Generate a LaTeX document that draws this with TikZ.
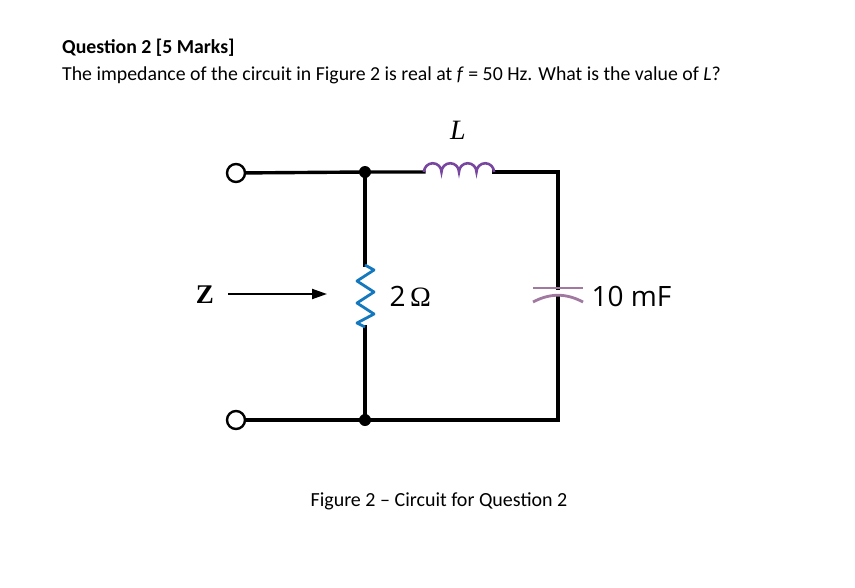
\documentclass[tikz,border=0pt]{standalone}
\usepackage{fontspec}
\setmainfont{Carlito}
\newfontfamily\serifz{Liberation Serif}
\newfontfamily\myriad{Open Sans}
\usetikzlibrary{decorations.pathmorphing,arrows.meta}
\begin{document}
\begin{tikzpicture}[x=1pt,y=-1pt,
  wire/.style={line width=3.4pt,line cap=rect},
  term/.style={circle,draw,line width=2.4pt,fill=white,minimum size=18pt,inner sep=0pt},
  dot/.style={circle,fill,minimum size=12pt,inner sep=0pt},
  txt/.style={font=\fontsize{19.8}{22}\selectfont,anchor=base west,inner sep=0pt}]
\useasboundingbox (0,0) rectangle (855,587);
\node[txt,font=\fontsize{19.8}{22}\selectfont\bfseries] (q) at (62,53) {Question 2 [5 Marks]};
\node[txt] (t) at (62,80) {The impedance of the circuit in Figure 2 is real at \textit{f} = 50 Hz. What is the value of \textit{L}?};
\coordinate (a) at (365,172);
\coordinate (b) at (365,420);
\coordinate (c) at (558,172);
\coordinate (d) at (558,420);
\coordinate (li) at (424,172);
\coordinate (lo) at (494,172);
\coordinate (rt) at (365,265);
\coordinate (rb) at (365,327);
\coordinate (ct) at (558,288);
\coordinate (cb) at (558,298);
\draw[wire] (236,173) -- (a) -- (li);
\draw[wire] (lo) -- (c) -- (ct);
\draw[wire] (cb) -- (d) -- (b) -- (236,420);
\draw[wire] (a) -- (rt);
\draw[wire] (rb) -- (b);
\draw[line width=2.6pt,color={rgb,255:red,120;green,70;blue,160}] (li)
  \foreach \i in {0,1,2,3} { arc[start angle=180,end angle=360,radius=8.75] } ;
\draw[line width=2.8pt,color={rgb,255:red,20;green,120;blue,190},line join=round]
  (rt) -- (374,270) -- (357,281) -- (374,292) -- (357,303) -- (374,314) -- (357,323) -- (rb);
\draw[line width=2.8pt,color={rgb,255:red,160;green,120;blue,160}] (533,288) -- (583,288);
\draw[line width=2.8pt,color={rgb,255:red,160;green,120;blue,160}] (533,302) .. controls (550,293) and (566,293) .. (583,302);
\node[term] (t1) at (236,173) {};
\node[term] (t2) at (236,420) {};
\node[dot] at (a) {};
\node[dot] at (b) {};
\node[font=\fontsize{27}{28}\selectfont\serifz\bfseries] (z) at (205,295) {Z};
\coordinate (za) at (228,294);
\coordinate (zb) at (327,294);
\draw[line width=2pt,-{Triangle[length=15pt,width=10pt]}] (za) -- (zb);
\node[font=\fontsize{28}{28}\selectfont\serifz\itshape] (lab) at (458,130) {L};
\node[font=\fontsize{28}{28}\selectfont\myriad,anchor=west] (r) at (386,296) {2\,\serifz Ω};
\node[font=\fontsize{28}{28}\selectfont\myriad,anchor=west] (cap) at (588,296) {10 mF};
\node[font=\fontsize{20}{22}\selectfont] (fig) at (439,501) {Figure 2 – Circuit for Question 2};
\end{tikzpicture}
\end{document}
